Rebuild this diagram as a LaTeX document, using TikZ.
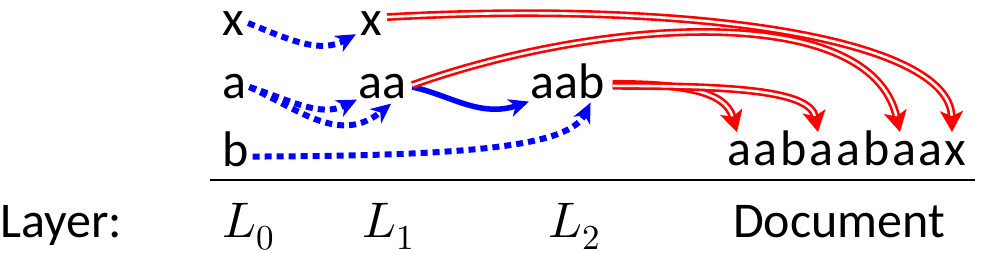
\documentclass[tikz,border=0pt]{standalone}
\usepackage{fontspec}
\usepackage{unicode-math}
\setmainfont{Carlito}
\usetikzlibrary{arrows.meta, calc}
\definecolor{cblue}{HTML}{0000FF}
\definecolor{cred}{HTML}{FF0000}

\begin{document}
\begin{tikzpicture}[x=1pt, y=-1pt,
  font=\fontsize{50}{60}\selectfont,
  word/.style={inner sep=0pt, anchor=base west},
  solidhop/.style={draw=cblue, line width=5.5pt,
    -{Stealth[length=20pt, width=18pt, inset=6pt]}},
  dothop/.style={solidhop, line width=6pt, dash pattern=on 7pt off 5pt},
  refarrow/.style={draw=cred, double=white, line width=2.6pt, double distance=2.6pt,
    -{Stealth[length=21pt, width=23pt, inset=5pt]}},
  ]
\useasboundingbox (0,0) rectangle (988,252);

% layer L0
\node[word] (x0) at (222,35) {x};
\node[word] (a0) at (222,98) {a};
\node[word] (b0) at (222,166) {b};
% layer L1, L2
\node[word] (x1) at (360,35) {x};
\node[word] (aa) at (358,98) {aa};
\node[word] (aab) at (530,98) {aab};
% document
\node[word, font=\fontsize{50}{60}\selectfont\addfontfeature{LetterSpace=5.5}]
  (doc) at (727,165) {aabaabaax};

\draw[dothop] ($(x0.east)+(4,0)$) .. controls (290,40) and (320,54) .. ($(x1.south west)+(-4,-1)$);
\draw[dothop] ($(a0.east)+(3,1)$) .. controls (290,100) and (320,118) .. ($(aa.south west)+(-1,1)$);
\draw[dothop] ($(a0.east)+(3,1)$) .. controls (300,110) and (340,145) .. ($(aa.south)+(9,5)$);
\draw[dothop] ($(b0.south east)+(4,-10)$) .. controls (480,156) and (570,145) .. ($(aab.south east)+(-14,4)$);
\draw[solidhop] ($(aa.east)+(6,1)$) .. controls (450,95) and (480,118) .. ($(aab.south west)+(-1,3)$);

\draw[refarrow] ($(x1.east)+(5,-6)$) .. controls (700,0) and (950,40) .. ($(doc.north west)+(225,2)$);
\draw[refarrow] ($(aa.east)+(6,-1)$) .. controls (600,18) and (870,0) .. ($(doc.north west)+(173,2)$);
\draw[refarrow] ($(aab.east)+(8,3)$) .. controls (680,84) and (725,90) .. ($(doc.north west)+(10,2)$);
\draw[refarrow] ($(aab.east)+(8,5)$) .. controls (730,86) and (810,90) .. ($(doc.north west)+(91,2)$);

\draw[line width=2.5pt] (210,180) -- (975,180);

\node[word] (lay) at (0,237) {Layer:};
\node[word] (l0) at (222,237) {$L_0$};
\node[word] (l1) at (362,237) {$L_1$};
\node[word] (l2) at (548,237) {$L_2$};
\node[word] (docl) at (733,237) {Document};
\end{tikzpicture}
\end{document}
